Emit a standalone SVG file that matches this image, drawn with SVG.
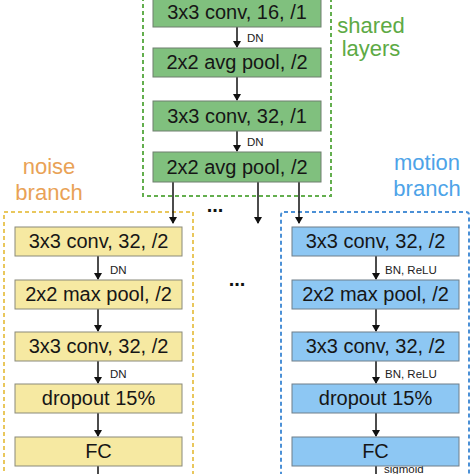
<svg xmlns="http://www.w3.org/2000/svg" width="474" height="474" viewBox="0 0 474 474">
<defs>
<marker id="ah" markerWidth="7" markerHeight="8" refX="6" refY="4" orient="auto" markerUnits="userSpaceOnUse">
<path d="M0,0 L7,4 L0,8 z" fill="#111"/>
</marker>
<style>
.g{fill:#80C07E;stroke:#6f7f6f;stroke-width:1}
.y{fill:#F6E9A2;stroke:#8a8a7a;stroke-width:1}
.b{fill:#8DC7F3;stroke:#6f7f8a;stroke-width:1}
.t{font-family:"Liberation Sans",Arial,sans-serif;font-size:20px;fill:#161616;text-anchor:middle}
.s{font-family:"Liberation Sans",Arial,sans-serif;font-size:11.5px;fill:#222}
.h{font-family:"Liberation Sans",Arial,sans-serif;font-size:22px;text-anchor:middle}
.dots{font-family:"Liberation Sans",Arial,sans-serif;font-size:20px;font-weight:bold;fill:#111;text-anchor:middle}
.c{stroke:#111;stroke-width:1.5;fill:none;marker-end:url(#ah)}
.l{stroke:#111;stroke-width:1.5;fill:none}
</style>
</defs>
<rect width="474" height="474" fill="#fff"/>
<g id="groups">
<rect x="143" y="-10" width="188" height="206" fill="none" stroke="#63AE4E" stroke-width="2" stroke-dasharray="4,3"/>
<rect x="4" y="212" width="189" height="280" fill="none" stroke="#E9C75C" stroke-width="2" stroke-dasharray="4,3"/>
<rect x="281" y="212" width="188" height="280" rx="3" fill="none" stroke="#4B90D6" stroke-width="2" stroke-dasharray="4,3"/>
<text class="h" x="371" y="33" fill="#5DAA45">shared</text>
<text class="h" x="371" y="56" fill="#5DAA45">layers</text>
<text class="h" x="49" y="174" fill="#E9A256">noise</text>
<text class="h" x="49" y="200" fill="#E9A256">branch</text>
<text class="h" x="427" y="170" fill="#4DA3E8">motion</text>
<text class="h" x="427" y="196" fill="#4DA3E8">branch</text>
</g>
<g id="connectors">
<line class="c" x1="237" y1="27" x2="237" y2="47"/>
<line class="c" x1="237" y1="77" x2="237" y2="100"/>
<line class="c" x1="237" y1="131" x2="237" y2="151"/>
<line class="c" x1="173" y1="182" x2="173" y2="223"/>
<line class="c" x1="258" y1="182" x2="258" y2="223"/>
<line class="c" x1="299" y1="182" x2="299" y2="223"/>
<line class="c" x1="98" y1="256" x2="98" y2="279"/>
<line class="c" x1="98" y1="309" x2="98" y2="331"/>
<line class="c" x1="98" y1="361" x2="98" y2="383"/>
<line class="c" x1="98" y1="413" x2="98" y2="436"/>
<line class="l" x1="98" y1="466" x2="98" y2="474"/>
<line class="c" x1="376" y1="256" x2="376" y2="279"/>
<line class="c" x1="376" y1="309" x2="376" y2="331"/>
<line class="c" x1="376" y1="361" x2="376" y2="383"/>
<line class="c" x1="376" y1="413" x2="376" y2="436"/>
<line class="l" x1="376" y1="466" x2="376" y2="474"/>
<text class="s" x="247" y="42">DN</text>
<text class="s" x="247" y="146">DN</text>
<text class="s" x="110" y="274">DN</text>
<text class="s" x="110" y="378">DN</text>
<text class="s" x="385" y="274">BN, ReLU</text>
<text class="s" x="385" y="378">BN, ReLU</text>
<text class="s" x="384" y="473" font-size="7">sigmoid</text>
<text class="dots" x="215" y="212">...</text>
<text class="dots" x="237" y="286">...</text>
</g>
<g id="shared1"><rect class="g" x="153" y="-3" width="168" height="30"/><text class="t" x="237" y="19">3x3 conv, 16, /1</text></g>
<g id="shared2"><rect class="g" x="153" y="48" width="168" height="29"/><text class="t" x="237" y="69">2x2 avg pool, /2</text></g>
<g id="shared3"><rect class="g" x="153" y="101" width="168" height="30"/><text class="t" x="237" y="123">3x3 conv, 32, /1</text></g>
<g id="shared4"><rect class="g" x="153" y="152" width="168" height="30"/><text class="t" x="237" y="174">2x2 avg pool, /2</text></g>
<g id="noise1"><rect class="y" x="15" y="227" width="167" height="29"/><text class="t" x="98.5" y="248">3x3 conv, 32, /2</text></g>
<g id="noise2"><rect class="y" x="15" y="280" width="167" height="29"/><text class="t" x="98.5" y="301">2x2 max pool, /2</text></g>
<g id="noise3"><rect class="y" x="15" y="332" width="167" height="29"/><text class="t" x="98.5" y="353">3x3 conv, 32, /2</text></g>
<g id="noise4"><rect class="y" x="15" y="384" width="167" height="29"/><text class="t" x="98.5" y="405">dropout 15%</text></g>
<g id="noise5"><rect class="y" x="15" y="437" width="167" height="29"/><text class="t" x="98.5" y="458">FC</text></g>
<g id="motion1"><rect class="b" x="292" y="227" width="167" height="29"/><text class="t" x="375.5" y="248">3x3 conv, 32, /2</text></g>
<g id="motion2"><rect class="b" x="292" y="280" width="167" height="29"/><text class="t" x="375.5" y="301">2x2 max pool, /2</text></g>
<g id="motion3"><rect class="b" x="292" y="332" width="167" height="29"/><text class="t" x="375.5" y="353">3x3 conv, 32, /2</text></g>
<g id="motion4"><rect class="b" x="292" y="384" width="167" height="29"/><text class="t" x="375.5" y="405">dropout 15%</text></g>
<g id="motion5"><rect class="b" x="292" y="437" width="167" height="29"/><text class="t" x="375.5" y="458">FC</text></g>
</svg>
